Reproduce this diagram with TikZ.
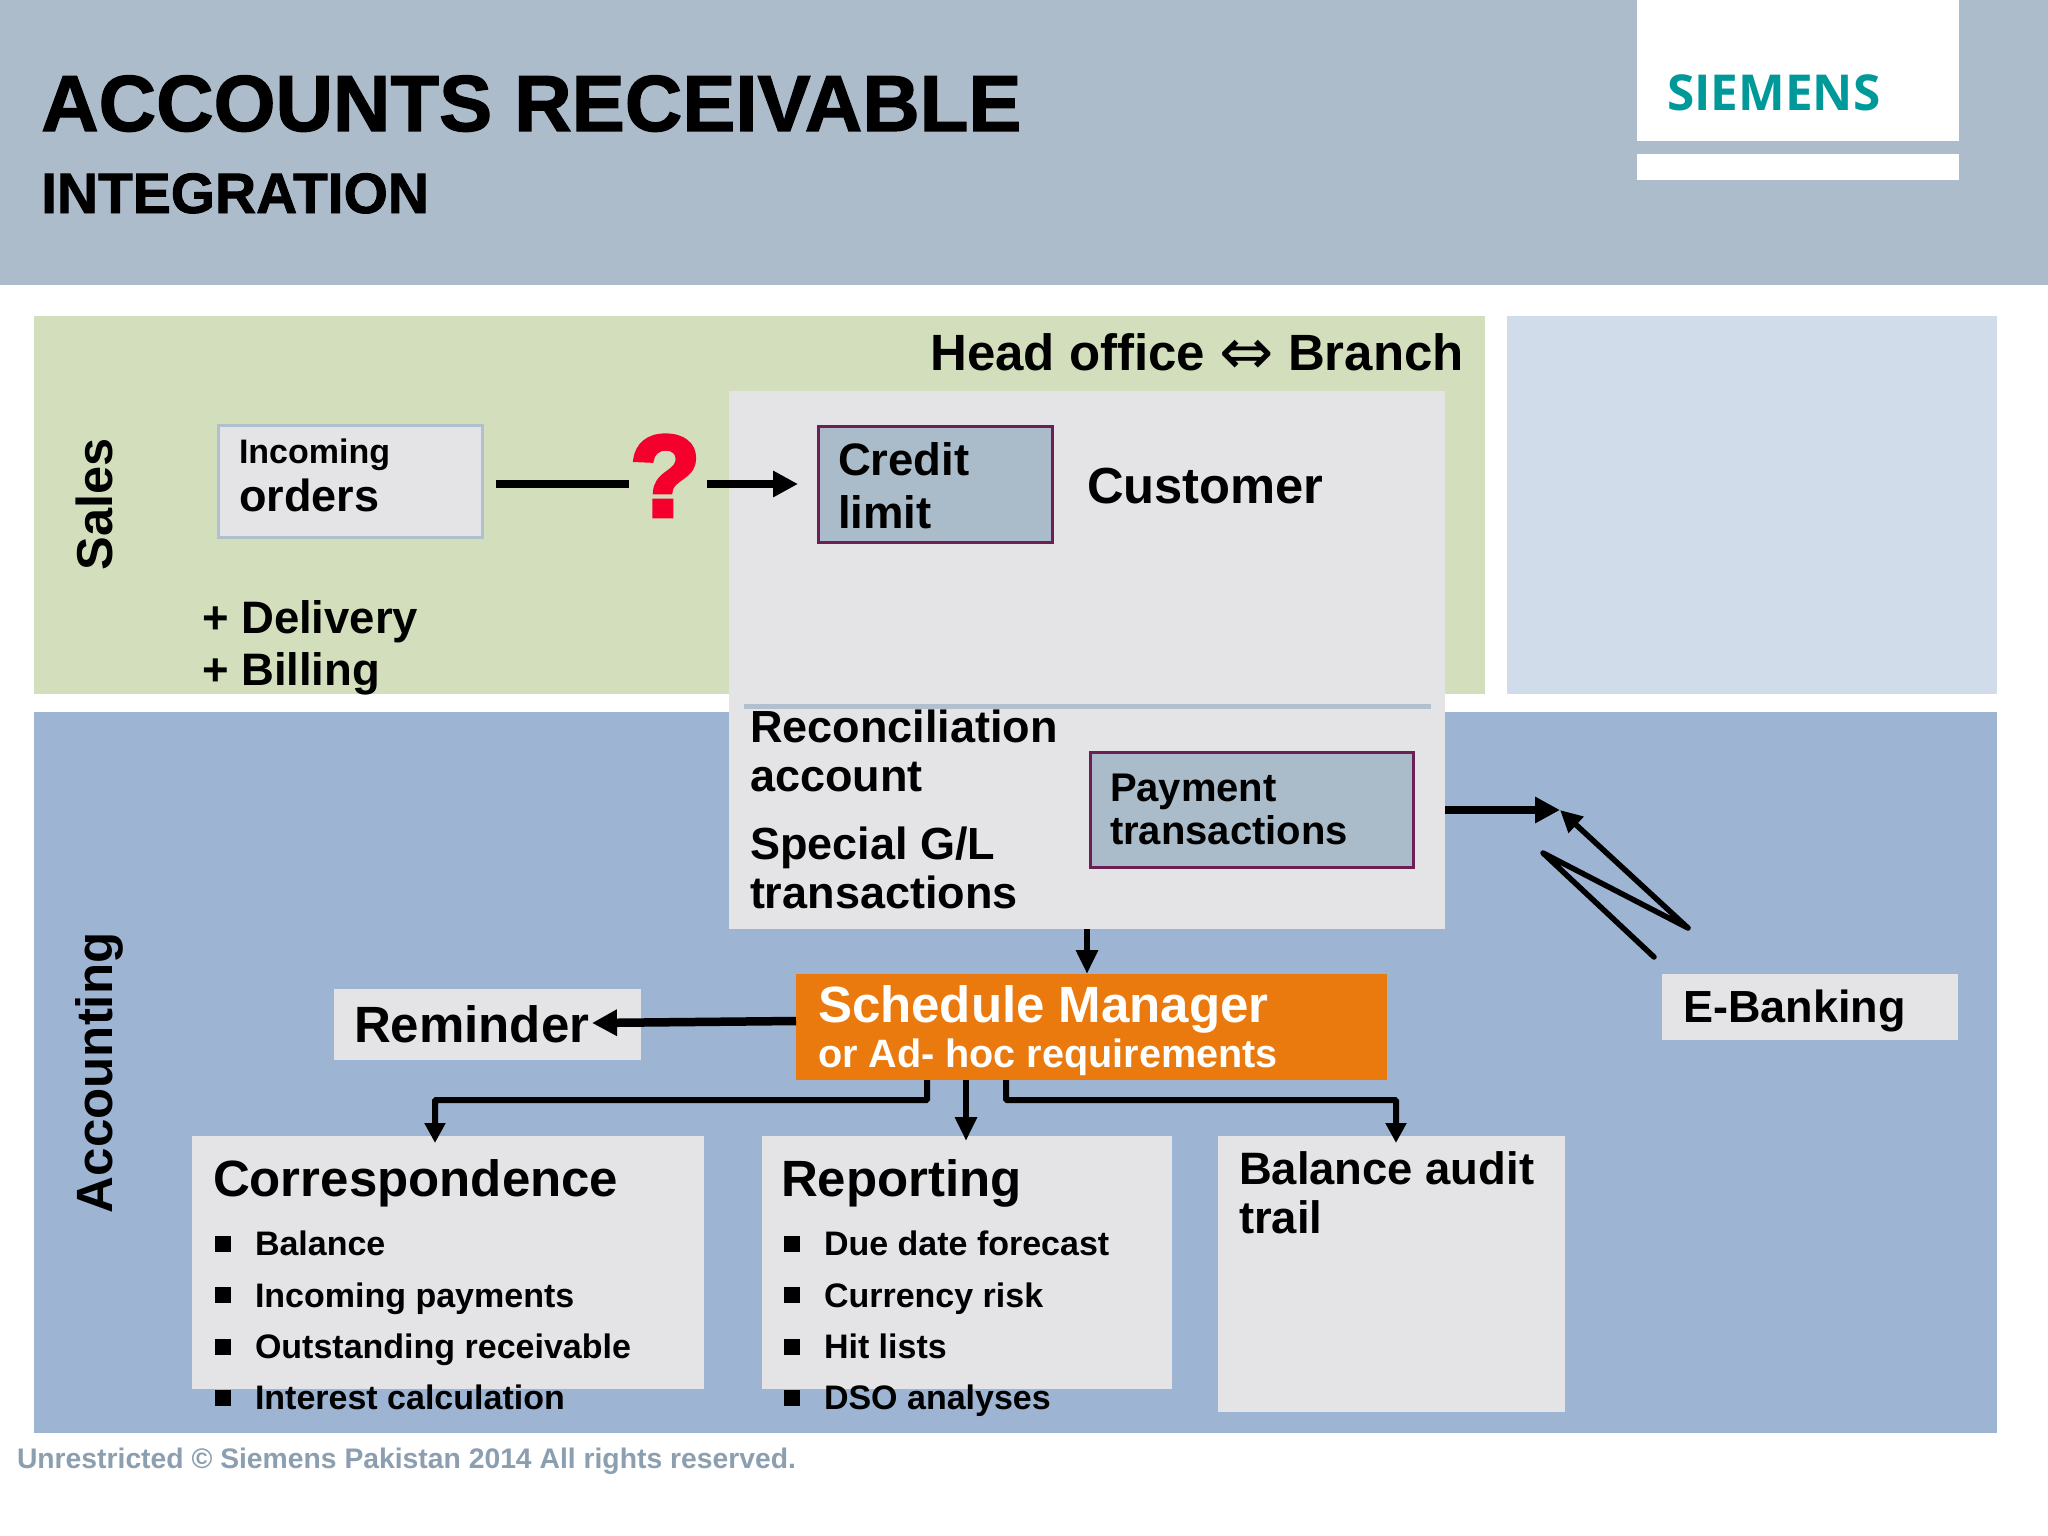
\documentclass[tikz,border=0pt]{standalone}
\usepackage{fontspec}
\setmainfont{Liberation Sans}
\newfontfamily\symfont{DejaVu Sans}
\newfontfamily\logofont{Open Sans}
\newfontfamily\qfont[BoldFont=*,RawFeature={embolden=4}]{Liberation Sans Bold}
\newfontfamily\titlefont[BoldFont=*,RawFeature={embolden=1.5}]{Liberation Sans Bold}
\usetikzlibrary{arrows.meta,calc}
\definecolor{headc}{HTML}{ACBCCB}
\definecolor{greenc}{HTML}{D3DFBC}
\definecolor{palec}{HTML}{D0DCEA}
\definecolor{bluec}{HTML}{9DB4D3}
\definecolor{grayc}{HTML}{E4E4E7}
\definecolor{slatec}{HTML}{AABCCA}
\definecolor{plumc}{HTML}{6B1F55}
\definecolor{orangec}{HTML}{EA7A0E}
\definecolor{tealc}{HTML}{009999}
\definecolor{footc}{HTML}{8C9FB0}
\definecolor{edgec}{HTML}{B0C0CE}
\definecolor{redc}{HTML}{F5002D}
\newcommand\fz[1]{\fontsize{#1}{#1}\selectfont\bfseries}
\newcommand\Bx[6]{\pgfmathsetmacro\bw{#5-#3}\pgfmathsetmacro\bh{#6-#4}%
  \node[#1,minimum width=\bw pt,minimum height=\bh pt] (#2) at (#3,#4) {};}
\tikzset{
  x=1pt,y=-1pt,
  panel/.style={anchor=north west,inner sep=0pt,outer sep=0pt,fill=#1},
  graybox/.style={panel=grayc},
  framed/.style={panel=grayc,draw=edgec,line width=3pt},
  plumbox/.style={panel=slatec,draw=plumc,line width=3pt},
  txt/.style={anchor=base west,inner sep=0pt,outer sep=0pt,text=black,font=\fz{#1}},
  sidetxt/.style={txt=#1,rotate=90},
  bul/.style={anchor=center,inner sep=0pt,minimum width=16pt,minimum height=16pt,fill=black},
  thickln/.style={line width=8.5pt},
  arr/.style={line width=8.5pt,-{Triangle[length=25pt,width=25pt]}},
  darr/.style={line width=6.5pt,-{Triangle[length=24pt,width=21pt]}},
  bent/.style={line width=6pt,-{Triangle[length=20pt,width=20pt]},rounded corners=1pt},
}
\begin{document}
\begin{tikzpicture}
\useasboundingbox (0,0) rectangle (2048,1536);
\fill[white] (0,0) rectangle (2048,1536);
% header
\Bx{panel=headc}{header}{0}{0}{2048}{285}
\Bx{panel=white}{logobox}{1637}{0}{1959}{141}
\Bx{panel=white}{logobar}{1637}{154}{1959}{180}
\node[anchor=base west,inner sep=0pt,text=tealc,font=\logofont\fz{49.5}] (logo) at (1667,111) {SIEMENS};
\node[anchor=base west,inner sep=0pt,font=\titlefont\fz{79.6}] (title) at (41,131) {ACCOUNTS RECEIVABLE};
\node[anchor=base west,inner sep=0pt,font=\titlefont\fz{56.9}] (subtitle) at (41,213) {INTEGRATION};
% panels
\Bx{panel=greenc}{sales}{34}{316}{1485}{694}
\Bx{panel=palec}{palepanel}{1507}{316}{1997}{694}
\Bx{panel=bluec}{accounting}{34}{712}{1997}{1433}
\Bx{graybox}{customerbox}{729}{391}{1445}{929}
\coordinate (ruleL) at (744,706);
\coordinate (ruleR) at (1431,706);
\draw[edgec,line width=5pt] (ruleL) -- (ruleR);
% side labels
\node[sidetxt=50.5] (saleslbl) at (112,570) {Sales};
\node[sidetxt=51] (acclbl) at (112,1213) {Accounting};
\node[anchor=base east,inner sep=0pt,font=\fz{51}] (headoffice) at (1464,370) {Head office {\symfont\mdseries\fontsize{65}{65}\selectfont\raisebox{-4pt}{⇔}} Branch};
% sales row
\Bx{framed}{orders}{218}{425}{482}{537}
\node[txt=34] (ordersA) at (239,463) {Incoming};
\node[txt=45] (ordersB) at (239,511) {orders};
\node[anchor=base west,inner sep=0pt,text=redc,font=\qfont\fz{115}] (qm) at (630,516) {?};
\Bx{plumbox}{credit}{818}{426}{1052}{542}
\node[txt=45.5] (creditA) at (838,475) {Credit};
\node[txt=45.5] (creditB) at (838,528) {limit};
\node[txt=50.7] (customer) at (1087,503) {Customer};
\node[txt=45.5] (delivery) at (202,633) {+ Delivery};
\node[txt=45.5] (billing) at (202,685) {+ Billing};
\draw[thickln] ([xshift=14pt,yshift=-3pt]orders.east) -- (629,484);
\draw[arr] (707,484) -- ([xshift=-20pt]credit.west);
% reconciliation
\node[txt=45] (recon) at (750,742) {Reconciliation};
\node[txt=45] (account) at (750,791) {account};
\node[txt=45] (special) at (750,859) {Special G/L};
\node[txt=45] (trans) at (750,908) {transactions};
\Bx{plumbox}{payment}{1090}{752}{1413}{867}
\node[txt=40] (payA) at (1110,801) {Payment};
\node[txt=40] (payB) at (1110,844) {transactions};
% schedule manager
\Bx{panel=orangec}{schedule}{796}{974}{1387}{1080}
\node[txt=51,text=white] (schedA) at (818,1022) {Schedule Manager};
\node[txt=39.6,text=white] (schedB) at (818,1067) {or Ad- hoc requirements};
\draw[darr] (customerbox.south -| schedule.north) ++(-4.5,0) -- ++(0,45);
\Bx{graybox}{reminder}{334}{989}{641}{1060}
\node[txt=51] (remtxt) at (354,1042) {Reminder};
\draw[arr] (schedule.west) ++(0,-6) -- (592,1023);
% e-banking
\Bx{graybox}{ebank}{1662}{974}{1958}{1040}
\node[txt=45] (ebtxt) at (1683,1022) {E-Banking};
\coordinate (zapTip) at (1560,810);
\coordinate (zapA) at (1688,928);
\coordinate (zapB) at (1543,853);
\coordinate (zapC) at (1654,957);
\draw[arr] (customerbox.east |- zapTip) -- (zapTip);
\draw[line width=5.5pt,line join=round,line cap=round,{Triangle[length=22pt,width=21pt]}-] (zapTip) -- (zapA) -- (zapB) -- (zapC);
% bottom boxes
\Bx{graybox}{corr}{192}{1136}{704}{1389}
\Bx{graybox}{rep}{762}{1136}{1172}{1389}
\Bx{graybox}{audit}{1218}{1136}{1565}{1412}
\draw[bent] (927,1080) -- (927,1100) -- (435,1100) -- (435,1143);
\draw[darr] (966,1080) -- (966,1141);
\draw[bent] (1006,1080) -- (1006,1100) -- (1396,1100) -- (1396,1143);
\node[txt=51] (corrT) at (213,1196) {Correspondence};
\node[bul] (b1) at (223,1244) {}; \node[txt=34] (t1) at (255,1255) {Balance};
\node[bul] (b2) at (223,1295) {}; \node[txt=34] (t2) at (255,1307) {Incoming payments};
\node[bul] (b3) at (223,1347) {}; \node[txt=34] (t3) at (255,1358) {Outstanding receivable};
\node[bul] (b4) at (223,1398) {}; \node[txt=34] (t4) at (255,1409) {Interest calculation};
\node[txt=51] (repT) at (781,1196) {Reporting};
\node[bul] (c1) at (792,1244) {}; \node[txt=34] (u1) at (824,1255) {Due date forecast};
\node[bul] (c2) at (792,1295) {}; \node[txt=34] (u2) at (824,1307) {Currency risk};
\node[bul] (c3) at (792,1347) {}; \node[txt=34] (u3) at (824,1358) {Hit lists};
\node[bul] (c4) at (792,1398) {}; \node[txt=34] (u4) at (824,1409) {DSO analyses};
\node[txt=45.4] (auditA) at (1239,1184) {Balance audit};
\node[txt=45.4] (auditB) at (1239,1233) {trail};
% footer
\node[txt=28.3,text=footc] (foot) at (17,1468) {Unrestricted © Siemens Pakistan 2014 All rights reserved.};
\end{tikzpicture}
\end{document}
